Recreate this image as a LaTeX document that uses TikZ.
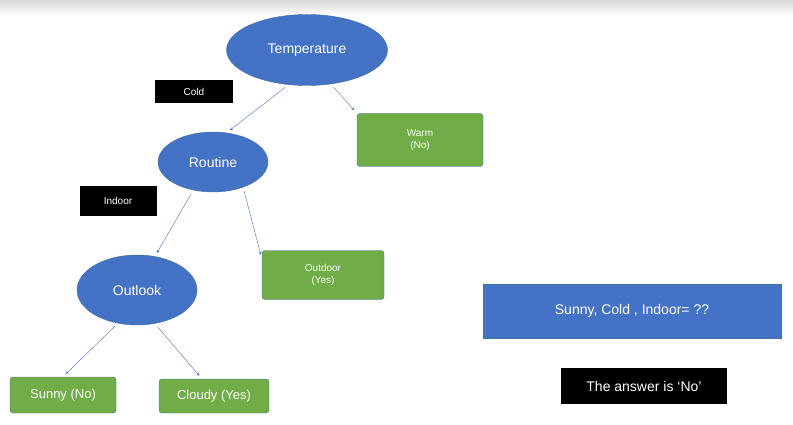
\documentclass[tikz,border=0pt]{standalone}
\usepackage{fontspec}
\setmainfont{Liberation Sans}
\usetikzlibrary{shapes.geometric}
\definecolor{nodeblue}{HTML}{4472C4}
\definecolor{leafgreen}{HTML}{70AD47}
\definecolor{edgeblue}{HTML}{41719C}

\tikzset{
  split/.style={ellipse, fill=nodeblue, draw=edgeblue, text=white, font=\fontsize{14}{16}\selectfont},
  leaf/.style={rectangle, rounded corners=3pt, fill=leafgreen, draw=edgeblue, text=white, align=center, font=\fontsize{10}{12}\selectfont},
  tag/.style={rectangle, fill=black, text=white, font=\fontsize{10}{12}\selectfont},
  branch/.style={->, >=stealth, draw=nodeblue, thin, shorten >=4pt, shorten <=4pt}
}

\begin{document}
\begin{tikzpicture}[x=1pt,y=-1pt]
  \useasboundingbox (0,0) rectangle (793,425);
  \shade[top color=black!15, bottom color=white] (0,0) rectangle (793,16);

  \node[split, minimum width=161pt, minimum height=71pt] (temp) at (307,50) {Temperature};
  \node[split, minimum width=110pt, minimum height=60pt] (routine) at (213,162) {Routine};
  \node[split, minimum width=120pt, minimum height=70pt] (outlook) at (137,290) {Outlook};

  \node[tag, minimum width=78pt, minimum height=23pt] (cold) at (194,92) {Cold};
  \node[tag, minimum width=77pt, minimum height=29pt] (indoor) at (118,201) {Indoor};

  \node[leaf, minimum width=126pt, minimum height=53pt] (warm) at (420,140) {Warm\\(No)};
  \node[leaf, minimum width=122pt, minimum height=49pt] (outdoor) at (323,275) {Outdoor\\(Yes)};
  \node[leaf, minimum width=106pt, minimum height=36pt, font=\fontsize{13}{15}\selectfont] (sunny) at (63,395) {Sunny (No)};
  \node[leaf, minimum width=110pt, minimum height=34pt, font=\fontsize{13}{15}\selectfont] (cloudy) at (214,396) {Cloudy (Yes)};

  \node[rectangle, fill=nodeblue, draw=edgeblue, text=white, minimum width=298pt, minimum height=54pt, font=\fontsize{14}{16}\selectfont] (query) at (632,311) {Sunny, Cold , Indoor= ??};
  \node[tag, minimum width=166pt, minimum height=36pt, font=\fontsize{14}{16}\selectfont] (answer) at (644,386) {The answer is ‘No’};

  % tree edges
  \draw[branch] (temp.-118) -- (routine.65);
  \draw[branch] (temp.-55) -- (warm.north west);
  \draw[branch] (routine.-125) -- (outlook.62);
  \draw[branch] (routine.-40) -- (outdoor.165);
  \draw[branch] (outlook.-120) -- (sunny.north);
  \draw[branch] (outlook.-62) -- (cloudy.125);
\end{tikzpicture}
\end{document}
